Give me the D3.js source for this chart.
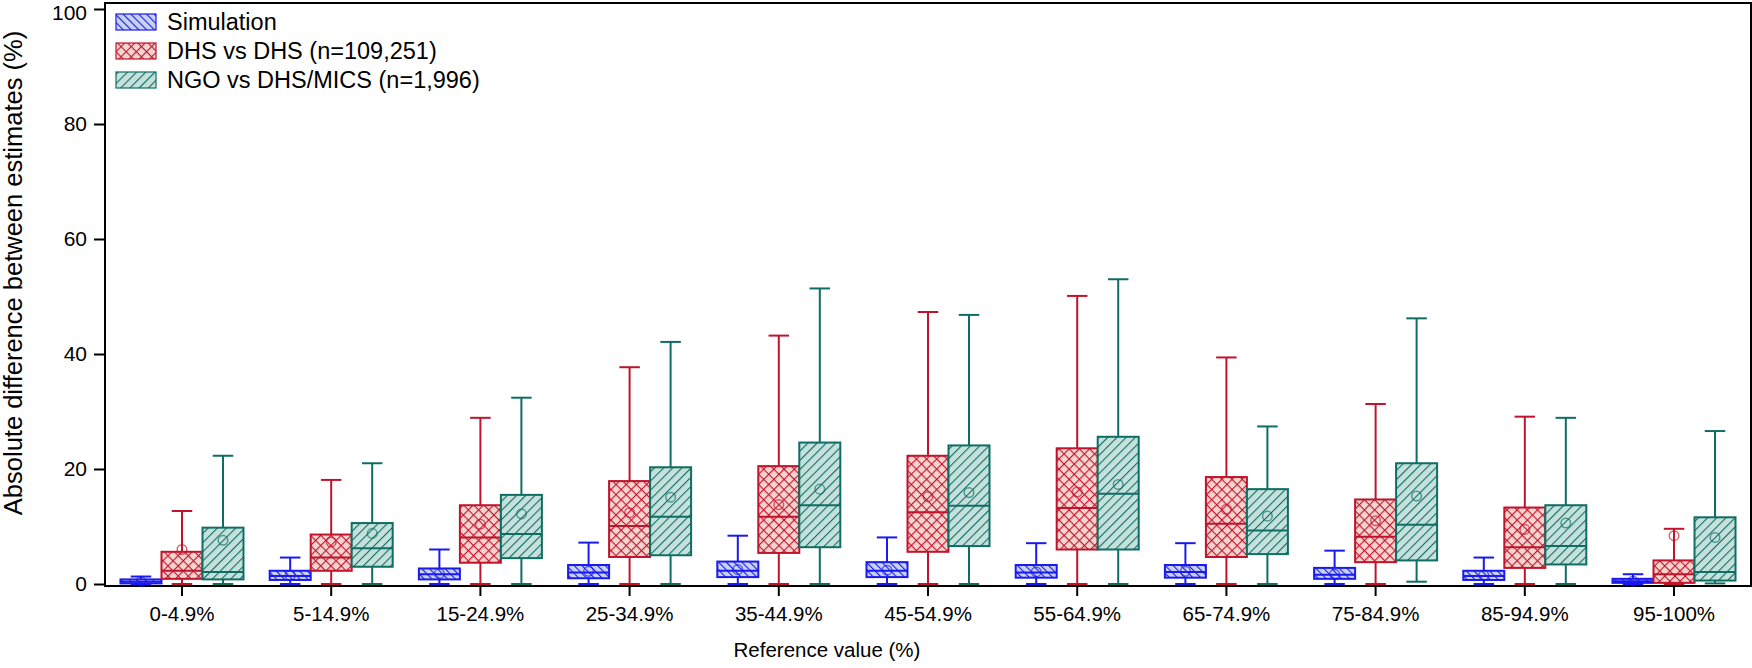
<!DOCTYPE html>
<html lang="en">
<head>
    <meta charset="UTF-8">
    <title>Absolute difference box plots</title>
    <script src="https://d3js.org/d3.v7.min.js"></script>
    <style>
        body { margin: 0; background: #fff; }
        text { font-family: "Liberation Sans", Arial, sans-serif; fill: #000; }
    </style>
</head>
<body>
    <div id="chart"></div>
    <script>
        // categories on the x axis
        const categories = ["0-4.9%", "5-14.9%", "15-24.9%", "25-34.9%", "35-44.9%", "45-54.9%",
            "55-64.9%", "65-74.9%", "75-84.9%", "85-94.9%", "95-100%"];

        const seriesNames = ["Simulation", "DHS vs DHS (n=109,251)", "NGO vs DHS/MICS (n=1,996)"];

        // per category: [whisker low, q1, median, q3, whisker high, mean]
        const simStats = [
            [0, 0.1, 0.4, 0.8, 1.3, 0.4],
            [0, 0.7, 1.4, 2.3, 4.6, 1.5],
            [0, 0.8, 1.7, 2.7, 6.0, 1.8],
            [0, 1.0, 2.0, 3.3, 7.2, 2.2],
            [0, 1.2, 2.3, 3.9, 8.4, 2.5],
            [0, 1.2, 2.3, 3.8, 8.1, 2.4],
            [0, 1.1, 2.0, 3.3, 7.1, 2.1],
            [0, 1.1, 2.1, 3.3, 7.1, 2.2],
            [0, 0.9, 1.6, 2.8, 5.8, 1.7],
            [0, 0.7, 1.4, 2.3, 4.6, 1.5],
            [0, 0.2, 0.5, 0.9, 1.7, 0.5]
        ];
        const dhsStats = [
            [0, 0.9, 2.3, 5.6, 12.7, 6.0],
            [0, 2.3, 4.6, 8.6, 18.1, 7.3],
            [0, 3.7, 8.1, 13.7, 28.9, 10.4],
            [0, 4.7, 10.1, 17.9, 37.7, 12.4],
            [0, 5.4, 11.7, 20.5, 43.2, 13.8],
            [0, 5.6, 12.5, 22.3, 47.3, 15.2],
            [0, 6.0, 13.2, 23.6, 50.1, 16.0],
            [0, 4.7, 10.5, 18.6, 39.4, 13.0],
            [0, 3.8, 8.2, 14.7, 31.3, 11.0],
            [0, 2.8, 6.4, 13.3, 29.1, 9.5],
            [0, 0.2, 1.7, 4.1, 9.6, 8.4]
        ];
        const ngoStats = [
            [0, 0.8, 2.1, 9.8, 22.3, 7.6],
            [0, 3.0, 6.2, 10.6, 21.0, 8.8],
            [0, 4.5, 8.7, 15.5, 32.4, 12.2],
            [0, 5.0, 11.7, 20.3, 42.1, 15.1],
            [0, 6.4, 13.7, 24.6, 51.4, 16.5],
            [0, 6.6, 13.6, 24.1, 46.8, 15.9],
            [0, 6.0, 15.7, 25.6, 53.0, 17.3],
            [0, 5.2, 9.3, 16.5, 27.4, 11.8],
            [0.4, 4.1, 10.3, 21.0, 46.2, 15.3],
            [0, 3.4, 6.6, 13.7, 28.9, 10.6],
            [0.1, 0.6, 2.1, 11.6, 26.6, 8.1]
        ];

        const yTicks = [0, 20, 40, 60, 80, 100];

        const styles = [
            { stroke: "#1a1aee", fill: "#c9d2f2", pattern: "hatchSim" },
            { stroke: "#c0142c", fill: "#f6d3ce", pattern: "hatchDhs" },
            { stroke: "#0f6e64", fill: "#c6e1dc", pattern: "hatchNgo" }
        ];
        const allStats = [simStats, dhsStats, ngoStats];

        const width = 1752, height = 668;
        const plot = { left: 105, right: 1751, top: 3, bottom: 586 };

        const svg = d3.select("#chart")
            .append("svg")
            .attr("width", width)
            .attr("height", height);

        // hatch patterns
        const defs = svg.append("defs");
        function linePattern(id, color, size, angle, cross) {
            const p = defs.append("pattern")
                .attr("id", id)
                .attr("patternUnits", "userSpaceOnUse")
                .attr("width", size)
                .attr("height", size)
                .attr("patternTransform", `rotate(${angle})`);
            p.append("line")
                .attr("x1", 0).attr("y1", 0).attr("x2", 0).attr("y2", size)
                .attr("stroke", color).attr("stroke-width", 2.2);
            if (cross) {
                p.append("line")
                    .attr("x1", 0).attr("y1", 0).attr("x2", size).attr("y2", 0)
                    .attr("stroke", color).attr("stroke-width", 2.2);
            }
        }
        linePattern("hatchSim", styles[0].stroke, 5.5, -45, false);
        linePattern("hatchDhs", styles[1].stroke, 7.2, 45, true);
        linePattern("hatchNgo", styles[2].stroke, 6.5, 45, false);

        const x = d3.scaleBand()
            .domain(categories)
            .range([plot.left, plot.right])
            .paddingInner(0)
            .paddingOuter(0.016);

        const boxW = 41;
        const xs = d3.scaleBand()
            .domain(d3.range(3))
            .range([-1.5 * boxW, 1.5 * boxW]);

        const y = d3.scaleLinear()
            .domain([0, 100])
            .range([584, 9]);

        // frame
        svg.append("rect")
            .attr("x", plot.left)
            .attr("y", plot.top)
            .attr("width", plot.right - plot.left)
            .attr("height", plot.bottom - plot.top)
            .attr("fill", "none")
            .attr("stroke", "#000")
            .attr("stroke-width", 2);

        // y axis
        const yAxis = svg.append("g")
            .attr("transform", `translate(${plot.left},0)`)
            .call(d3.axisLeft(y).tickValues(yTicks).tickSize(11).tickPadding(7));
        yAxis.select(".domain").remove();
        yAxis.selectAll("line").attr("stroke-width", 2);
        yAxis.selectAll("text").style("font-size", "21px").attr("fill", "#000");
        // keep the top label inside the picture
        yAxis.selectAll("text").filter(d => d === 100).attr("dy", "0.52em");

        // x axis
        const xAxis = svg.append("g")
            .attr("transform", `translate(0,${plot.bottom})`)
            .call(d3.axisBottom(x).tickSize(10).tickPadding(10));
        xAxis.select(".domain").remove();
        xAxis.selectAll("line").attr("stroke-width", 2);
        xAxis.selectAll("text").style("font-size", "20.5px").attr("fill", "#000");

        // axis titles
        svg.append("text")
            .attr("x", 827)
            .attr("y", 657)
            .attr("text-anchor", "middle")
            .style("font-size", "20.5px")
            .text("Reference value (%)");

        svg.append("text")
            .attr("transform", `translate(22,273) rotate(-90)`)
            .attr("text-anchor", "middle")
            .style("font-size", "25.5px")
            .text("Absolute difference between estimates (%)");

        // boxes
        const plotArea = svg.append("g");
        allStats.forEach((stats, si) => {
            const st = styles[si];
            const g = plotArea.append("g");
            stats.forEach((s, ci) => {
                const [lo, q1, med, q3, hi, mean] = s;
                const x0 = x(categories[ci]) + x.bandwidth() / 2 + xs(si);
                const cx = x0 + boxW / 2;
                const capW = boxW / 2;

                // whiskers
                g.append("line")
                    .attr("x1", cx).attr("x2", cx)
                    .attr("y1", y(hi)).attr("y2", y(q3))
                    .attr("stroke", st.stroke).attr("stroke-width", 2);
                g.append("line")
                    .attr("x1", cx).attr("x2", cx)
                    .attr("y1", y(q1)).attr("y2", y(lo))
                    .attr("stroke", st.stroke).attr("stroke-width", 2);
                [hi, lo].forEach(v => {
                    g.append("line")
                        .attr("x1", cx - capW / 2).attr("x2", cx + capW / 2)
                        .attr("y1", y(v)).attr("y2", y(v))
                        .attr("stroke", st.stroke).attr("stroke-width", 2);
                });

                // box
                g.append("rect")
                    .attr("x", x0).attr("width", boxW)
                    .attr("y", y(q3)).attr("height", y(q1) - y(q3))
                    .attr("fill", st.fill);
                g.append("rect")
                    .attr("x", x0).attr("width", boxW)
                    .attr("y", y(q3)).attr("height", y(q1) - y(q3))
                    .attr("fill", `url(#${st.pattern})`)
                    .attr("stroke", st.stroke)
                    .attr("stroke-width", 2);

                // median
                g.append("line")
                    .attr("x1", x0).attr("x2", x0 + boxW)
                    .attr("y1", y(med)).attr("y2", y(med))
                    .attr("stroke", st.stroke).attr("stroke-width", 2);

                // mean
                g.append("circle")
                    .attr("cx", cx).attr("cy", y(mean)).attr("r", 4.8)
                    .attr("fill", "none")
                    .attr("stroke", st.stroke)
                    .attr("stroke-opacity", 0.65)
                    .attr("stroke-width", 1.5);
            });
        });

        // legend
        const legend = svg.append("g").attr("transform", "translate(116,0)");
        const legendY = [22, 51, 80];
        seriesNames.forEach((name, i) => {
            const st = styles[i];
            legend.append("rect")
                .attr("x", 0).attr("y", legendY[i] - 8)
                .attr("width", 40).attr("height", 16)
                .attr("fill", st.fill);
            legend.append("rect")
                .attr("x", 0).attr("y", legendY[i] - 8)
                .attr("width", 40).attr("height", 16)
                .attr("fill", `url(#${st.pattern})`)
                .attr("stroke", st.stroke).attr("stroke-width", 1.2);
            legend.append("text")
                .attr("x", 51).attr("y", legendY[i])
                .attr("dy", "0.36em")
                .style("font-size", "23.5px")
                .text(name);
        });
    </script>
</body>
</html>
